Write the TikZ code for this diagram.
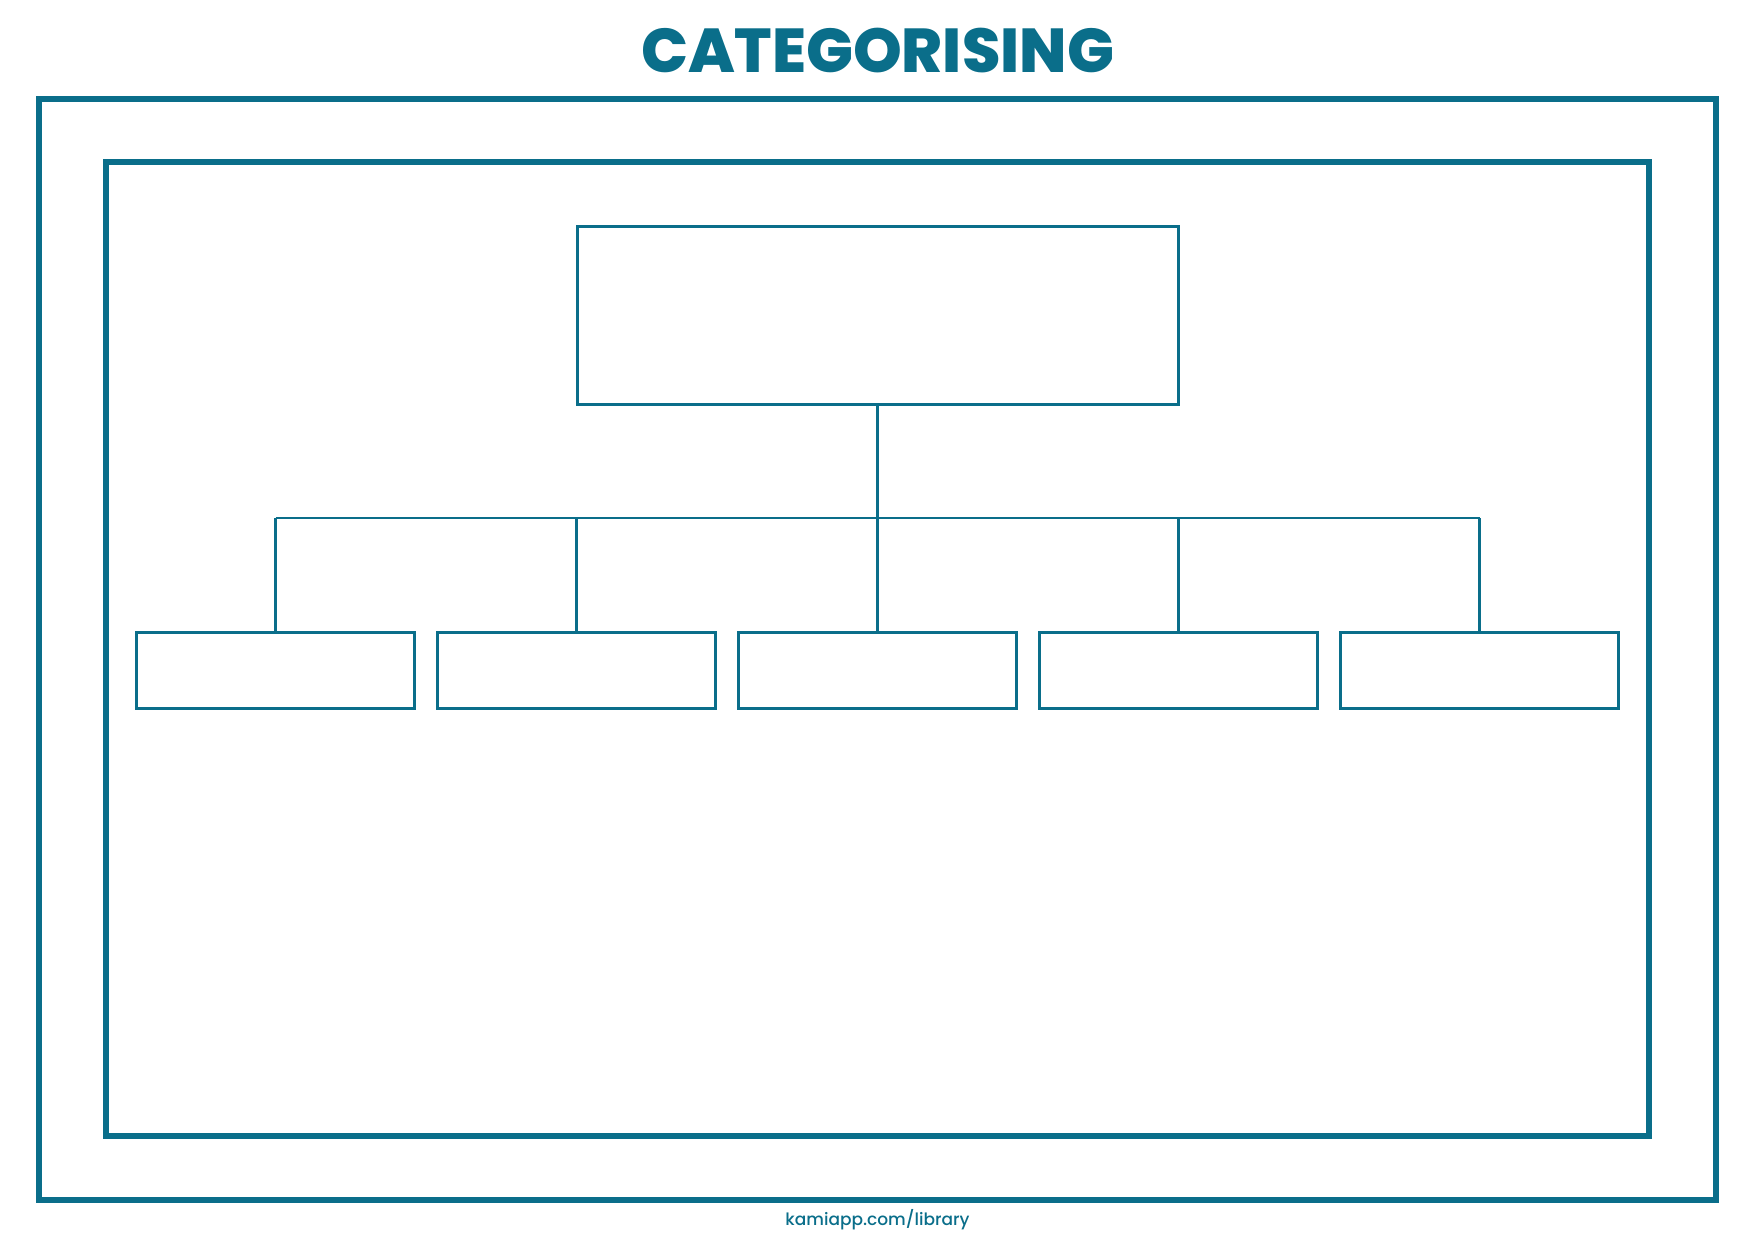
\documentclass[tikz,border=0pt]{standalone}
\usepackage{fontspec}
\setmainfont{Poppins}
\newfontfamily\titlefont{Poppins ExtraBold}
\newfontfamily\footfont{Poppins Medium}
\definecolor{kteal}{HTML}{0A6E8A}
\begin{document}
\begin{tikzpicture}[x=1pt,y=-1pt,
    catbox/.style={shape=rectangle,draw=kteal,line width=3pt,minimum width=601pt,minimum height=178pt},
    subbox/.style={shape=rectangle,draw=kteal,line width=3pt,minimum width=278pt,minimum height=76pt},
    frame/.style={draw=kteal,line width=6pt},
    link/.style={draw=kteal,line width=2.8pt}]
				\useasboundingbox (0,0) rectangle (1755,1240);

				\node[inner sep=0pt,text=kteal,font=\fontsize{62}{62}\titlefont] (title) at (877.5,51) {CATEGORISING};
				\draw[frame] (39,98.5) rectangle (1716,1200);
				\draw[frame] (106,162) rectangle (1649,1136);

				\node[catbox] (cat) at (877.5,315) {};
				\node[subbox] (sc1) at (275.5,670) {};
				\node[subbox] (sc2) at (576.5,670) {};
				\node[subbox] (sc3) at (877.5,670) {};
				\node[subbox] (sc4) at (1178.5,670) {};
				\node[subbox] (sc5) at (1479.5,670) {};
				\coordinate (hub) at (877.5,518);

				\draw[link] (cat.south) -- (sc3.north);
				\draw[link] (sc1.north |- hub) -- (sc5.north |- hub);
				\draw[link] (sc1.north |- hub) -- (sc1.north);
				\draw[link] (sc2.north |- hub) -- (sc2.north);
				\draw[link] (sc4.north |- hub) -- (sc4.north);
				\draw[link] (sc5.north |- hub) -- (sc5.north);

				\node[anchor=base,inner sep=0pt,text=kteal,font=\fontsize{17}{17}\footfont] (foot) at (877.5,1225) {kamiapp.com/library};
			\end{tikzpicture}
\end{document}
